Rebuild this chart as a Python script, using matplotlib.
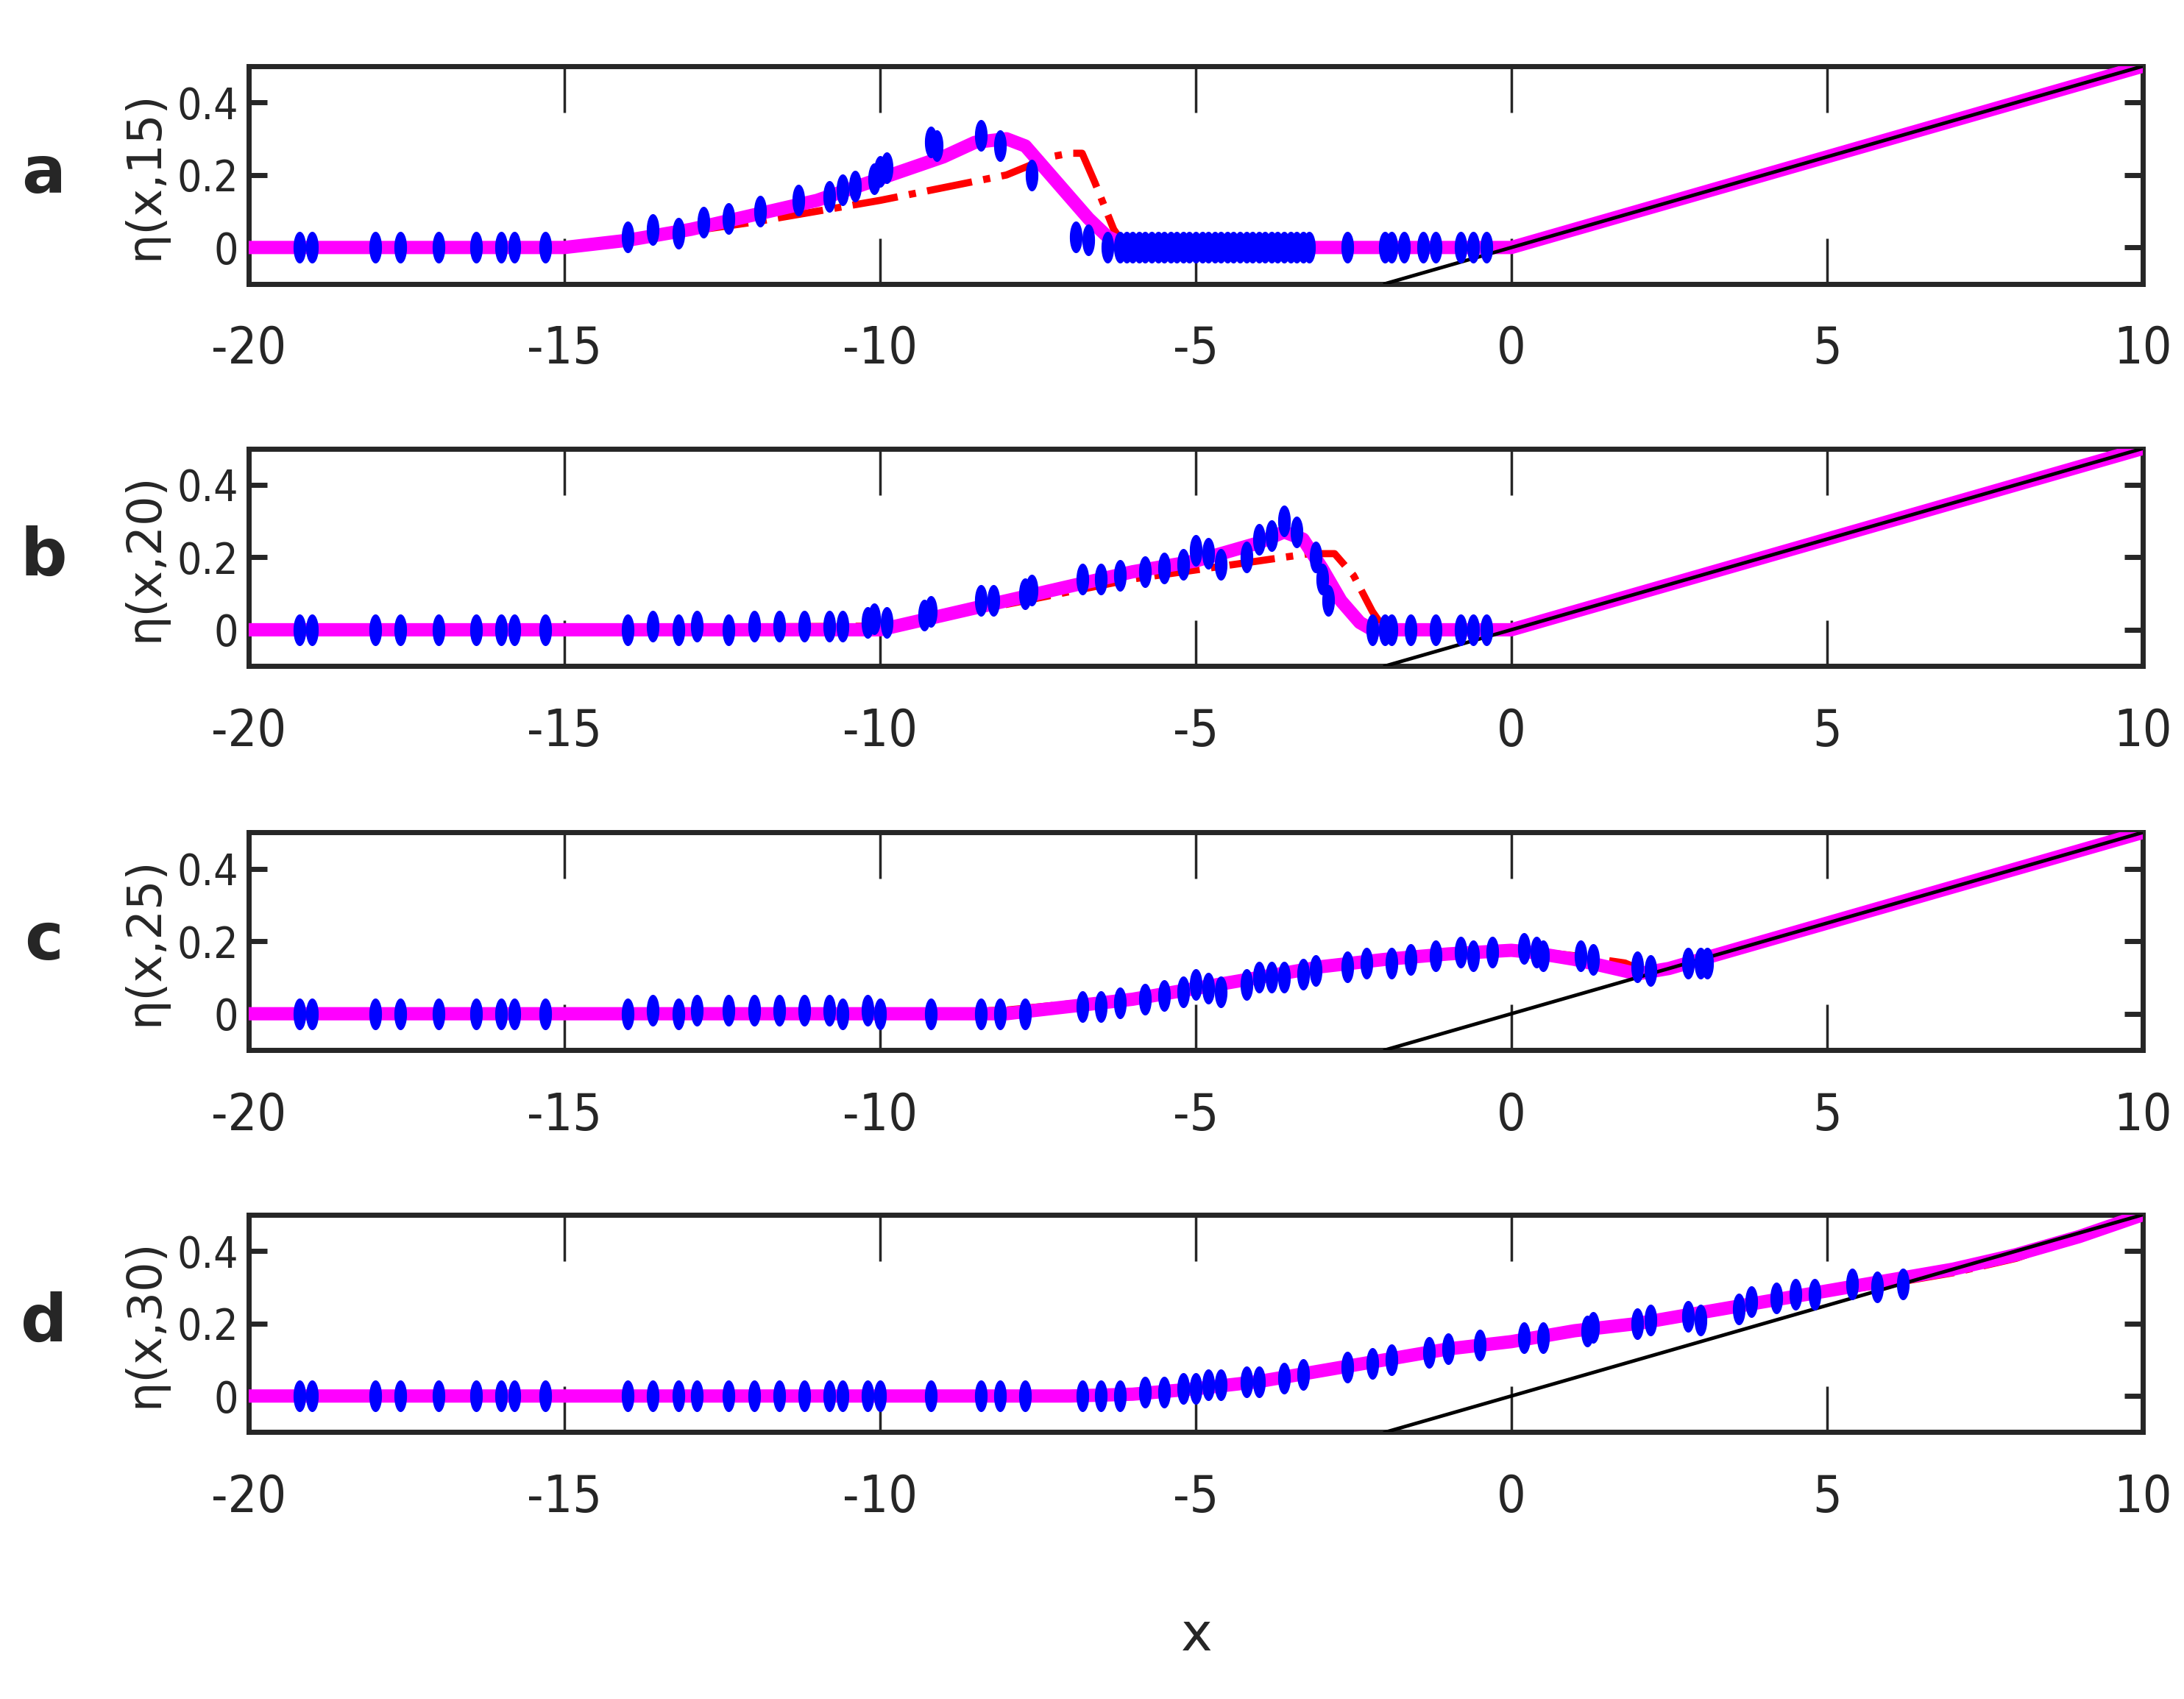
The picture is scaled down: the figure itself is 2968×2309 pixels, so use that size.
import numpy as np
import matplotlib
matplotlib.use('Agg')
import matplotlib.pyplot as plt
from matplotlib.path import Path

# ---- data ----
panel_letters = ['a', 'b', 'c', 'd']
panel_times = [15, 20, 25, 30]

left_x = [-19.2, -19.0, -18.0, -17.6, -17.0, -16.4, -16.0, -15.8, -15.3]

mag_a_x = [-20, -15, -14, -13, -12, -11, -10, -9, -8.5, -8, -7.7, -7.3, -7, -6.7, -6.4, -6.1, -6, -0.3, 0, 10]
mag_a_y = [0, 0, 0.02, 0.05, 0.09, 0.13, 0.19, 0.25, 0.29, 0.30, 0.28, 0.2, 0.14, 0.08, 0.03, 0.005, 0, 0, 0, 0.5]
red_a_x = [-20, -15, -14, -12, -10, -8, -7.3, -7.0, -6.8, -6.6, -6.3, -6.1, 0, 10]
red_a_y = [0, 0.003, 0.02, 0.07, 0.13, 0.2, 0.25, 0.26, 0.26, 0.18, 0.05, 0, 0, 0.5]
dot_a_x = left_x + [-14.0, -13.6, -13.2, -12.8, -12.4, -11.9, -11.3, -10.8, -10.6, -10.4, -10.1, -10.0, -9.9,
                    -9.2, -9.1, -8.4, -8.1, -7.6, -6.9, -6.7, -6.4,
                    -6.2, -6.1, -6.0, -5.9, -5.8, -5.7, -5.6, -5.5, -5.4, -5.3, -5.2, -5.1, -5.0, -4.9, -4.8,
                    -4.7, -4.6, -4.5, -4.4, -4.3, -4.2, -4.1, -4.0, -3.9, -3.8, -3.7, -3.6, -3.5, -3.4, -3.3, -3.2,
                    -2.6, -2.0, -1.9, -1.7, -1.4, -1.2, -0.8, -0.6, -0.4]
dot_a_y = [0.0] * 9 + [0.03, 0.05, 0.04, 0.07, 0.08, 0.1, 0.13, 0.14, 0.16, 0.17, 0.19, 0.21, 0.22,
                       0.29, 0.28, 0.31, 0.28, 0.2, 0.03, 0.02, 0.0] + [0.0] * 31 + [0.0] * 9

mag_b_x = [-20, -10, -9, -8, -7, -6, -5, -4, -3.6, -3.3, -3.0, -2.7, -2.4, -2.2, -0.3, 0, 10]
mag_b_y = [0, 0.0, 0.04, 0.08, 0.12, 0.16, 0.19, 0.24, 0.27, 0.25, 0.17, 0.08, 0.02, 0, 0, 0, 0.5]
red_b_x = [-20, -10, -8, -6, -4, -3.2, -2.8, -2.5, -2.2, -2.0, 0, 10]
red_b_y = [0, 0.01, 0.07, 0.14, 0.19, 0.21, 0.21, 0.15, 0.05, 0, 0, 0.5]
dot_b_x = left_x + [-14.0, -13.6, -13.2, -12.9, -12.4, -12.0, -11.6, -11.2, -10.8, -10.6, -10.2, -10.1, -9.9,
                    -9.3, -9.2, -8.4, -8.2, -7.7, -7.6, -6.8, -6.5, -6.2, -5.8, -5.5, -5.2, -5.0, -4.8, -4.6,
                    -4.2, -4.0, -3.8, -3.6, -3.4, -3.1, -3.0, -2.9, -2.2, -2.0, -1.9, -1.6, -1.2, -0.8, -0.6, -0.4]
dot_b_y = [0.0] * 9 + [0.0, 0.01, 0.0, 0.01, 0.0, 0.01, 0.01, 0.01, 0.01, 0.01, 0.02, 0.03, 0.02,
                       0.04, 0.05, 0.08, 0.08, 0.1, 0.11, 0.14, 0.14, 0.15, 0.16, 0.17, 0.18, 0.22, 0.21, 0.18,
                       0.2, 0.25, 0.26, 0.3, 0.27, 0.2, 0.14, 0.08, 0.0, 0.0, 0.0, 0.0, 0.0, 0.0, 0.0, 0.0]

mag_c_x = [-20, -9, -8, -7.5, -7, -6, -5, -4, -3, -2, -1, 0, 0.3, 1, 1.5, 2, 2.5, 10]
mag_c_y = [0, 0, 0, 0.01, 0.02, 0.04, 0.07, 0.1, 0.13, 0.15, 0.165, 0.175, 0.17, 0.15, 0.13, 0.11, 0.125, 0.5]
red_c_x = [-20, -10, -9, -8, -6, -4, -2, -1, 0, 0.5, 1, 1.8, 2.2, 10]
red_c_y = [0, 0, 0.005, 0.01, 0.045, 0.1, 0.15, 0.17, 0.18, 0.17, 0.16, 0.14, 0.11, 0.5]
dot_c_x = left_x + [-14.0, -13.6, -13.2, -12.9, -12.4, -12.0, -11.6, -11.2, -10.8, -10.6, -10.2, -10.0,
                    -9.2, -8.4, -8.1, -7.7, -6.8, -6.5, -6.2, -5.8, -5.5, -5.2, -5.0, -4.8, -4.6, -4.2, -4.0,
                    -3.8, -3.6, -3.3, -3.1, -2.6, -2.3, -1.9, -1.6, -1.2, -0.8, -0.6, -0.3, 0.2, 0.4, 0.5,
                    1.1, 1.3, 2.0, 2.2, 2.8, 3.0, 3.1]
dot_c_y = [0.0] * 9 + [0.0, 0.01, 0.0, 0.01, 0.01, 0.01, 0.01, 0.01, 0.01, 0.0, 0.01, 0.0,
                       0.0, 0.0, 0.0, 0.0, 0.02, 0.02, 0.03, 0.04, 0.05, 0.06, 0.08, 0.07, 0.06, 0.08, 0.1,
                       0.1, 0.1, 0.11, 0.12, 0.13, 0.14, 0.14, 0.15, 0.16, 0.17, 0.16, 0.17, 0.18, 0.17, 0.16,
                       0.16, 0.15, 0.13, 0.12, 0.14, 0.14, 0.14]

mag_d_x = [-20, -8, -7, -6, -5, -4, -3, -2, -1, 0, 1, 2, 3, 4, 5, 6, 7, 8, 9, 10]
mag_d_y = [0, 0, 0, 0.005, 0.02, 0.04, 0.07, 0.1, 0.13, 0.15, 0.18, 0.2, 0.23, 0.26, 0.29, 0.32, 0.35, 0.39, 0.44, 0.5]
red_d_x = mag_d_x
red_d_y = [0, 0, 0, 0.005, 0.02, 0.045, 0.075, 0.1, 0.13, 0.15, 0.175, 0.2, 0.23, 0.26, 0.285, 0.31, 0.34, 0.38, 0.44, 0.5]
dot_d_x = left_x + [-14.0, -13.6, -13.2, -12.9, -12.4, -12.0, -11.6, -11.2, -10.8, -10.6, -10.2, -10.0,
                    -9.2, -8.4, -8.1, -7.7, -6.8, -6.5, -6.2, -5.8, -5.5, -5.2, -5.0, -4.8, -4.6, -4.2, -4.0,
                    -3.6, -3.3, -2.6, -2.2, -1.9, -1.3, -1.0, -0.5, 0.2, 0.5, 1.2, 1.3, 2.0, 2.2, 2.8, 3.0,
                    3.6, 3.8, 4.2, 4.5, 4.8, 5.4, 5.8, 6.2]
dot_d_y = [0.0] * 9 + [0.0, 0.0, 0.0, 0.0, 0.0, 0.0, 0.0, 0.0, 0.0, 0.0, 0.0, 0.0,
                       0.0, 0.0, 0.0, 0.0, 0.0, 0.0, 0.0, 0.01, 0.01, 0.02, 0.02, 0.03, 0.03, 0.04, 0.04,
                       0.05, 0.06, 0.08, 0.09, 0.1, 0.12, 0.13, 0.14, 0.16, 0.16, 0.18, 0.19, 0.2, 0.21, 0.22, 0.21,
                       0.24, 0.26, 0.27, 0.28, 0.28, 0.31, 0.3, 0.31]

bed_x = [-2, 10]
bed_y = [-0.1, 0.5]

panels = [
    (mag_a_x, mag_a_y, red_a_x, red_a_y, dot_a_x, dot_a_y),
    (mag_b_x, mag_b_y, red_b_x, red_b_y, dot_b_x, dot_b_y),
    (mag_c_x, mag_c_y, red_c_x, red_c_y, dot_c_x, dot_c_y),
    (mag_d_x, mag_d_y, red_d_x, red_d_y, dot_d_x, dot_d_y),
]

# ---- figure ----
plt.rcParams['axes.unicode_minus'] = False
t = np.linspace(0, 2 * np.pi, 40)
ellipse = Path(np.column_stack([0.38 * np.cos(t), np.sin(t)]))

fig = plt.figure(figsize=(29.68, 23.09), dpi=100)
bottoms = [0.833, 0.608, 0.382, 0.157]
height = 0.128

for i, (mx, my, rx, ry, dx, dy) in enumerate(panels):
    ax = fig.add_axes([0.114, bottoms[i], 0.867, height])
    ax.plot(rx, ry, color='red', lw=7, ls='-.', zorder=3)
    ax.plot(mx, my, color='magenta', lw=13, zorder=4)
    ax.plot(bed_x, bed_y, color='black', lw=3.5, zorder=5)
    ax.plot(dx, dy, ls='none', marker=ellipse, ms=30, color='blue', zorder=6)
    ax.set_xlim(-20, 10)
    ax.set_ylim(-0.1, 0.5)
    ax.set_xticks([-20, -15, -10, -5, 0, 5, 10])
    ax.set_yticks([0, 0.2, 0.4])
    ax.set_yticklabels(['0', '0.2', '0.4'])
    ax.tick_params(axis='x', direction='in', top=True, length=45, width=2.5, pad=40,
                   labelsize=50, colors='#262626')
    ax.tick_params(axis='y', direction='in', right=True, length=18, width=5, pad=10,
                   labelsize=42, colors='#262626')
    for lab in ax.get_xticklabels() + ax.get_yticklabels():
        lab.set_fontstretch('condensed')
    for s in ax.spines.values():
        s.set_linewidth(5)
        s.set_color('#262626')
    ax.set_ylabel('η(x,%d)' % panel_times[i], fontsize=46, color='#262626', labelpad=10)
    fig.text(0.02, bottoms[i] + height * 0.5, panel_letters[i], fontsize=64, fontweight='bold',
             color='#262626', va='center', ha='center')

fig.text(0.548, 0.022, 'x', fontsize=52, color='#262626', ha='center', va='bottom')

fig.savefig('out.png', dpi=100)
